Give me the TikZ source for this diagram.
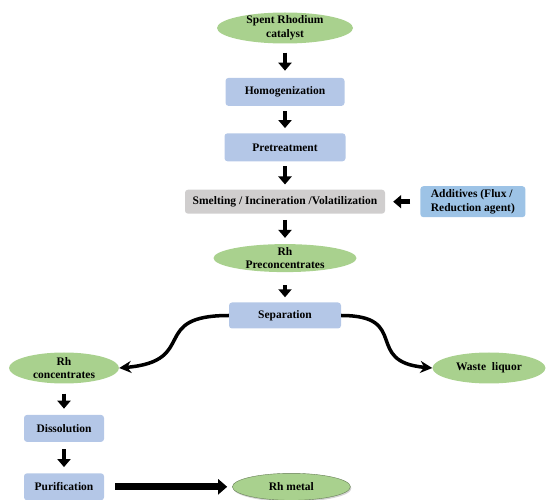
\documentclass[tikz,border=0pt]{standalone}
\usepackage{fontspec}
\setmainfont{Liberation Serif}
\usetikzlibrary{shapes.geometric, arrows.meta, positioning, shadows}
\definecolor{leaf}{RGB}{169,209,142}
\definecolor{steel}{RGB}{180,199,231}
\definecolor{sky}{RGB}{157,195,230}
\definecolor{ash}{RGB}{208,206,206}
\tikzset{
  step box/.style={rectangle, rounded corners=3pt, fill=steel, draw=none,
                   align=center, inner sep=0pt,
                   font=\bfseries\fontsize{11.5}{13.5}\selectfont},
  oval/.style={ellipse, fill=leaf, draw=none, align=center,
               inner xsep=0pt, inner ysep=-2pt,
               font=\bfseries\fontsize{11.5}{13.5}\selectfont},
  fat/.style={-{Triangle[length=8pt, width=13pt]}, line width=4.5pt,
              shorten <=5pt, shorten >=5pt},
  curved/.style={-{Stealth[length=12pt, width=12pt]}, line width=3.5pt},
}
\begin{document}
\begin{tikzpicture}[x=1pt, y=1pt, node distance=28pt]
  \useasboundingbox (0,0) rectangle (550,-500);
  % main line
  \node[oval, minimum width=136pt, minimum height=31pt] (spent) at (285,-28)
    {Spent Rhodium\\catalyst};
  \node[step box, below=34pt of spent, minimum width=119pt, minimum height=28pt]
    (homog) {Homogenization};
  \node[step box, below=27pt of homog, minimum width=121pt, minimum height=28pt]
    (pretreat) {Pretreatment};
  \node[step box, below=of pretreat, fill=ash, minimum width=200pt,
        minimum height=24pt] (smelt) {Smelting / Incineration /Volatilization};
  \node[step box, right=35pt of smelt, fill=sky, align=left,
        minimum width=105pt, minimum height=31pt] (additive)
    {Additives (Flux /\\Reduction agent)};
  \node[oval, below=30pt of smelt, minimum width=143pt, minimum height=28pt]
    (precon) {Rh\\Preconcentrates};
  \node[step box, below=30pt of precon, minimum width=112pt, minimum height=26pt]
    (sep) {Separation};
  % branches
  \node[oval, minimum width=110pt, minimum height=31pt] (rhconc) at (64,-368)
    {Rh\\concentrates};
  \node[oval, minimum width=113pt, minimum height=31pt] (waste) at (489,-368)
    {Waste\ \ liquor};
  \node[step box, below=31pt of rhconc, minimum width=80pt, minimum height=27pt]
    (dissol) {Dissolution};
  \node[step box, below=31pt of dissol, minimum width=80pt, minimum height=27pt]
    (purif) {Purification};
  \node[oval, right=128pt of purif, minimum width=118pt, minimum height=27pt,
        draw=leaf!60!black, line width=0.4pt,
        drop shadow={shadow xshift=1pt, shadow yshift=-1.5pt, opacity=0.35}]
    (rhmetal) {Rh metal};
  % arrows
  \draw[fat, shorten <=9pt, shorten >=7pt] (spent) -- (homog);
  \draw[fat] (homog) -- (pretreat);
  \draw[fat] (pretreat) -- (smelt);
  \draw[fat, shorten <=10pt, shorten >=8pt] (additive) -- (smelt);
  \draw[fat, shorten <=6pt, shorten >=6pt] (smelt) -- (precon);
  \draw[fat, shorten <=13pt, shorten >=5pt] (precon) -- (sep);
  \draw[curved] (sep.west) to[out=180, in=5, looseness=1.7] (rhconc.east);
  \draw[curved] (sep.east) to[out=0, in=175, looseness=1.7] (waste.west);
  \draw[fat, shorten <=10pt, shorten >=6pt] (rhconc) -- (dissol);
  \draw[fat, shorten <=7pt, shorten >=6pt] (dissol) -- (purif);
  \draw[-{Triangle[length=9pt, width=15pt]}, line width=7pt,
        shorten <=11pt, shorten >=5pt] (purif) -- (rhmetal);
\end{tikzpicture}
\end{document}
